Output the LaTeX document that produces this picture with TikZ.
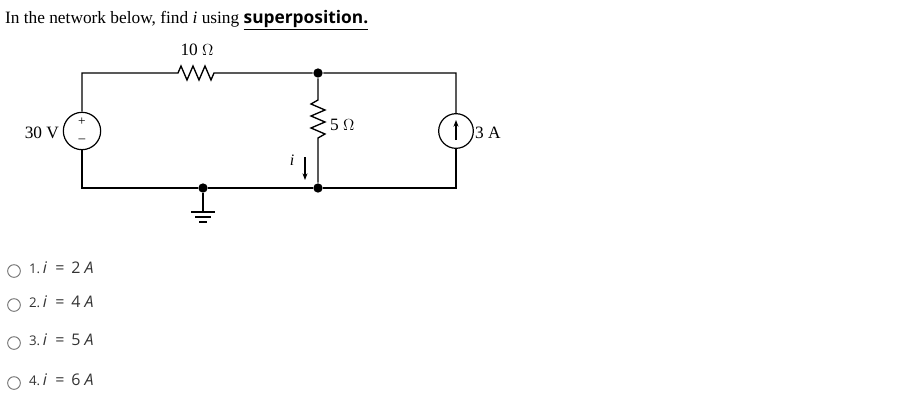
\documentclass[tikz,border=0pt]{standalone}
\usepackage{fontspec}
\setmainfont{Liberation Serif}
\newfontfamily\opsans{Open Sans}
\usetikzlibrary{arrows.meta}
\begin{document}
\begin{tikzpicture}[x=0.75pt,y=-0.75pt,line width=0.9pt,
  wire/.style={line width=1pt},
  dot/.style={circle,fill,inner sep=0,minimum size=7pt},
  lbl/.style={font=\fontsize{13}{15}\selectfont},
  opt/.style={anchor=west,font=\opsans\fontsize{12}{14}\selectfont,text=black!80},
  radio/.style={circle,draw=black!55,line width=0.7pt,minimum size=9.5pt,inner sep=0}]
\useasboundingbox (0,0) rectangle (920,401);
\node[anchor=west,font=\fontsize{13}{15}\selectfont] (title) at (0,20) {In the network below, find \textit{i} using {\opsans\bfseries\underline{superposition.}}};
% corners
\coordinate (tl) at (82,73); \coordinate (bl) at (82,188);
\coordinate (tr) at (456,73); \coordinate (br) at (456,188);
\node[dot] (nt) at (318,73) {}; \node[dot] (nb) at (318,188) {};
\node[dot] (ng) at (203,188) {};
% voltage source
\node[circle,draw,minimum size=28pt,inner sep=0] (vs) at (82,131) {};
\node[font=\fontsize{10}{10}\selectfont] (vp) at (82,122) {+};
\node[font=\fontsize{10}{10}\selectfont] (vm) at (82,141) {--};
\node[lbl,anchor=east] (vl) at (64,133) {30 V};
% current source
\node[circle,draw,minimum size=26pt,inner sep=0] (cs) at (456,131) {};
\draw[-{Stealth[length=5pt]}] (456,140) -- (456,120);
\node[lbl,anchor=west] (cl) at (470,133) {3 A};
% 10 ohm
\coordinate (ra) at (172,73); \coordinate (rb) at (232,73);
\draw[wire] (vs.north) -- (tl) -- (ra) -- (178,73) -- (181,66) -- (187,80) -- (193,66) -- (199,80) -- (205,66) -- (211,80) -- (214,73) -- (rb) -- (nt) -- (tr) -- (cs.north);
\node[lbl] (r1) at (197,50) {10 $\Omega$};
% 5 ohm
\draw[wire] (nt) -- (318,100) -- (311,104) -- (325,110) -- (311,116) -- (325,122) -- (311,128) -- (325,134) -- (318,138) -- (nb);
\node[lbl,anchor=west] (r2) at (325,125) {5 $\Omega$};
\draw[-{Stealth[length=5pt]}] (305,157) -- (305,180);
\node[font=\fontsize{12}{12}\selectfont\itshape] (il) at (292,160) {i};
% bottom
\draw[wire] (vs.south) -- (bl) -- (ng) -- (nb) -- (br) -- (cs.south);
% ground
\draw[wire] (ng) -- (203,212);
\draw[wire] (191,212) -- (215,212);
\draw[wire] (195,217) -- (211,217);
\draw[wire] (199,222) -- (207,222);
% options
\foreach \y/\n/\v in {268/1/2,302/2/4,340/3/5,380/4/6}{
  \node[radio] (r\n) at (14,\y+3) {};
  \node[opt] (o\n) at (24,\y) {\fontsize{10}{12}\selectfont\n.\fontsize{12}{14}\selectfont\,\textit{i} \ = \,\v\ \textit{A}};
}
\end{tikzpicture}
\end{document}
